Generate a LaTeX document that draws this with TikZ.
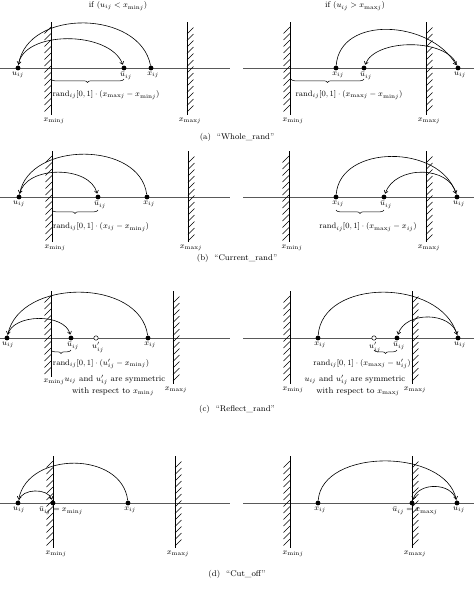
\documentclass[tikz,border=0pt]{standalone}
\usetikzlibrary{arrows.meta,decorations.pathreplacing}
\tikzset{
 ax/.style={line width=0.9pt, black!65},
 wallline/.style={line width=0.8pt},
 hatchline/.style={line width=0.5pt},
 pt/.style={circle, fill, inner sep=0pt, minimum size=4.8pt},
 opt/.style={circle, draw, fill=white, inner sep=0pt, minimum size=4.4pt, line width=0.5pt},
 lbl/.style={font=\fontsize{8.3}{9.5}\selectfont, inner sep=0.5pt},
 jump/.style={line width=0.6pt, -{To[length=3.2pt,width=4.5pt]}, shorten >=1pt},
 brc/.style={decorate, decoration={brace, amplitude=3.5pt, mirror}, line width=0.5pt},
}
\newcommand{\hwall}[5]{%
  \coordinate (#1t) at (#2,#3);
  \coordinate (#1b) at (#2,#4);
  \draw[wallline] (#1t) -- (#1b);
  \pgfmathtruncatemacro{\nh}{(#4-#3-9)/6.5}
  \foreach \k in {0,...,\nh} \draw[hatchline] (#2,{#3+5+\k*6.5+(1+#5)*3.5}) -- ++({#5*6.5},{-#5*6.5});
}
\begin{document}
\begin{tikzpicture}[x=1pt,y=-1pt]
\fill[white] (0,0) rectangle (474,592);
\useasboundingbox (0,0) rectangle (474,592);

% ---------- titles
\node[lbl] (tl) at (118,6) {if $(u_{ij} < x_{\mathrm{min}j})$};
\node[lbl] (tr) at (355,6) {if $(u_{ij} > x_{\mathrm{max}j})$};

% ================= (a) left
\draw[ax] (0,68) coordinate (aLs) -- (230,68) coordinate (aLe);
\hwall{aLmin}{51}{22}{115}{-1}
\hwall{aLmax}{187}{22}{115}{1}
\node[pt] (aLu) at (18,68) {};
\node[pt] (aLub) at (124,68) {};
\node[pt] (aLx) at (151,68) {};
\node[lbl,anchor=north] (aLul) at ([yshift=-1pt]aLu.south) {$u_{ij}$};
\node[lbl,anchor=north] (aLubl) at ([xshift=2pt,yshift=-1pt]aLub.south) {$\bar{u}_{ij}$};
\node[lbl,anchor=north] (aLxl) at ([xshift=2pt,yshift=-1pt]aLx.south) {$x_{ij}$};
\node[lbl,anchor=north] (aLminl) at ([xshift=3pt,yshift=-2pt]aLminb) {$x_{\mathrm{min}j}$};
\node[lbl,anchor=north] (aLmaxl) at ([xshift=3pt,yshift=-2pt]aLmaxb) {$x_{\mathrm{max}j}$};
\draw[jump] (aLx) .. controls (140,10) and (28,8) .. (aLu);
\draw[jump] (aLu) .. controls (22,30) and (110,30) .. (aLub);
\draw[brc] (51,79) -- (124,79);
\node[lbl] (aLr) at (106,95) {$\mathrm{rand}_{ij}[0,1]\cdot(x_{\mathrm{max}j}-x_{\mathrm{min}j})$};

% ================= (a) right
\draw[ax] (243,68) coordinate (aRs) -- (474,68) coordinate (aRe);
\hwall{aRmin}{290}{22}{115}{-1}
\hwall{aRmax}{426}{22}{115}{1}
\node[pt] (aRx) at (336,68) {};
\node[pt] (aRub) at (364,68) {};
\node[pt] (aRu) at (458,68) {};
\node[lbl,anchor=north] (aRxl) at ([xshift=2pt,yshift=-1pt]aRx.south) {$x_{ij}$};
\node[lbl,anchor=north] (aRubl) at ([xshift=2pt,yshift=-1pt]aRub.south) {$\bar{u}_{ij}$};
\node[lbl,anchor=north] (aRul) at ([xshift=2pt,yshift=-1pt]aRu.south) {$u_{ij}$};
\node[lbl,anchor=north] (aRminl) at ([xshift=3pt,yshift=-2pt]aRminb) {$x_{\mathrm{min}j}$};
\node[lbl,anchor=north] (aRmaxl) at ([xshift=3pt,yshift=-2pt]aRmaxb) {$x_{\mathrm{max}j}$};
\draw[jump] (aRx) .. controls (340,15) and (430,20) .. (aRu);
\draw[jump] (aRu) .. controls (448,38) and (375,38) .. (aRub);
\draw[brc] (291,79) -- (364,79);
\node[lbl] (aRr) at (349,95) {$\mathrm{rand}_{ij}[0,1]\cdot(x_{\mathrm{max}j}-x_{\mathrm{min}j})$};

\node[lbl] (capa) at (237,137) {(a)\ \ “Whole\_rand”};

% ================= (b) left
\draw[ax] (0,197) coordinate (bLs) -- (230,197) coordinate (bLe);
\hwall{bLmin}{52}{151}{242}{-1}
\hwall{bLmax}{188}{151}{242}{1}
\node[pt] (bLu) at (19,197) {};
\node[pt] (bLub) at (98,197) {};
\node[pt] (bLx) at (147,197) {};
\node[lbl,anchor=north] (bLul) at ([yshift=-1pt]bLu.south) {$u_{ij}$};
\node[lbl,anchor=north] (bLubl) at ([xshift=2pt,yshift=-1pt]bLub.south) {$\bar{u}_{ij}$};
\node[lbl,anchor=north] (bLxl) at ([xshift=2pt,yshift=-1pt]bLx.south) {$x_{ij}$};
\node[lbl,anchor=north] (bLminl) at ([xshift=3pt,yshift=-2pt]bLminb) {$x_{\mathrm{min}j}$};
\node[lbl,anchor=north] (bLmaxl) at ([xshift=3pt,yshift=-2pt]bLmaxb) {$x_{\mathrm{max}j}$};
\draw[jump] (bLx) .. controls (140,141) and (30,141) .. (bLu);
\draw[jump] (bLu) .. controls (25,165) and (90,165) .. (bLub);
\draw[brc] (52,210) -- (98,210);
\node[lbl] (bLr) at (101,227) {$\mathrm{rand}_{ij}[0,1]\cdot(x_{ij}-x_{\mathrm{min}j})$};

% ================= (b) right
\draw[ax] (243,197) coordinate (bRs) -- (474,197) coordinate (bRe);
\hwall{bRmin}{289}{151}{242}{-1}
\hwall{bRmax}{426}{151}{242}{1}
\node[pt] (bRx) at (336,197) {};
\node[pt] (bRub) at (384,197) {};
\node[pt] (bRu) at (457,197) {};
\node[lbl,anchor=north] (bRxl) at ([xshift=2pt,yshift=-1pt]bRx.south) {$x_{ij}$};
\node[lbl,anchor=north] (bRubl) at ([xshift=2pt,yshift=-1pt]bRub.south) {$\bar{u}_{ij}$};
\node[lbl,anchor=north] (bRul) at ([xshift=2pt,yshift=-1pt]bRu.south) {$u_{ij}$};
\node[lbl,anchor=north] (bRminl) at ([xshift=3pt,yshift=-2pt]bRminb) {$x_{\mathrm{min}j}$};
\node[lbl,anchor=north] (bRmaxl) at ([xshift=3pt,yshift=-2pt]bRmaxb) {$x_{\mathrm{max}j}$};
\draw[jump] (bRx) .. controls (340,144) and (440,144) .. (bRu);
\draw[jump] (bRu) .. controls (450,165) and (395,165) .. (bRub);
\draw[brc] (336,210) -- (384,210);
\node[lbl] (bRr) at (368,227) {$\mathrm{rand}_{ij}[0,1]\cdot(x_{\mathrm{max}j}-x_{ij})$};

\node[lbl] (capb) at (237,258) {(b)\ \ “Current\_rand”};

% ================= (c) left
\draw[ax] (0,338) coordinate (cLs) -- (230,338) coordinate (cLe);
\hwall{cLmin}{51}{291}{377}{-1}
\hwall{cLmax}{173}{291}{384}{1}
\node[pt] (cLu) at (7,338) {};
\node[pt] (cLub) at (71,338) {};
\node[opt] (cLup) at (96,338) {};
\node[pt] (cLx) at (148,338) {};
\node[lbl,anchor=north] (cLul) at ([xshift=1pt,yshift=-1pt]cLu.south) {$u_{ij}$};
\node[lbl,anchor=north] (cLubl) at ([xshift=2pt,yshift=-1pt]cLub.south) {$\bar{u}_{ij}$};
\node[lbl,anchor=north] (cLupl) at ([xshift=2pt,yshift=-1pt]cLup.south) {$u'_{ij}$};
\node[lbl,anchor=north] (cLxl) at ([xshift=2pt,yshift=-1pt]cLx.south) {$x_{ij}$};
\node[lbl,anchor=north] (cLminl) at ([xshift=3pt,yshift=-1pt]cLminb) {$x_{\mathrm{min}j}$};
\node[lbl,anchor=north] (cLmaxl) at ([xshift=3pt,yshift=-2pt]cLmaxb) {$x_{\mathrm{max}j}$};
\draw[jump] (cLx) .. controls (140,278) and (20,278) .. (cLu);
\draw[jump] (cLu) .. controls (12,313) and (65,313) .. (cLub);
\draw[brc] (51,350) -- (71,350);
\node[lbl] (cLr) at (101,364) {$\mathrm{rand}_{ij}[0,1]\cdot(u'_{ij}-x_{\mathrm{min}j})$};
\node[lbl] (cLs1) at (115,380) {$u_{ij}$ and $u'_{ij}$ are symmetric};
\node[lbl] (cLs2) at (113,392) {with respect to $x_{\mathrm{min}j}$};

% ================= (c) right
\draw[ax] (243,338) coordinate (cRs) -- (474,338) coordinate (cRe);
\hwall{cRmin}{290}{291}{384}{-1}
\hwall{cRmax}{412}{291}{384}{1}
\node[pt] (cRx) at (318,338) {};
\node[opt] (cRup) at (374,338) {};
\node[pt] (cRub) at (397,338) {};
\node[pt] (cRu) at (458,338) {};
\node[lbl,anchor=north] (cRxl) at ([xshift=2pt,yshift=-1pt]cRx.south) {$x_{ij}$};
\node[lbl,anchor=north] (cRupl) at ([xshift=1pt,yshift=-1pt]cRup.south) {$u'_{ij}$};
\node[lbl,anchor=north] (cRubl) at ([xshift=2pt,yshift=-1pt]cRub.south) {$\bar{u}_{ij}$};
\node[lbl,anchor=north] (cRul) at ([xshift=2pt,yshift=-1pt]cRu.south) {$u_{ij}$};
\node[lbl,anchor=north] (cRminl) at ([xshift=3pt,yshift=-2pt]cRminb) {$x_{\mathrm{min}j}$};
\node[lbl,anchor=north] (cRmaxl) at ([xshift=3pt,yshift=-2pt]cRmaxb) {$x_{\mathrm{max}j}$};
\draw[jump] (cRx) .. controls (322,278) and (440,278) .. (cRu);
\draw[jump] (cRu) .. controls (452,311) and (405,311) .. (cRub);
\draw[brc] (374,350) -- (397,350);
\node[lbl] (cRr) at (362,364) {$\mathrm{rand}_{ij}[0,1]\cdot(x_{\mathrm{max}j}-u'_{ij})$};
\node[lbl] (cRs1) at (355,380) {$u_{ij}$ and $u'_{ij}$ are symmetric};
\node[lbl] (cRs2) at (358,392) {with respect to $x_{\mathrm{max}j}$};

\node[lbl] (capc) at (237,409) {(c)\ \ “Reflect\_rand”};

% ================= (d) left
\draw[ax] (0,503) coordinate (dLs) -- (230,503) coordinate (dLe);
\hwall{dLmin}{53}{456}{548}{-1}
\hwall{dLmax}{175}{456}{548}{1}
\node[pt] (dLu) at (18,503) {};
\node[pt] (dLub) at (53,503) {};
\node[pt] (dLx) at (128,503) {};
\node[lbl,anchor=north] (dLul) at ([xshift=1pt,yshift=-1pt]dLu.south) {$u_{ij}$};
\node[lbl,anchor=north] (dLubl) at ([xshift=8pt,yshift=-1pt]dLub.south) {$\bar{u}_{ij}= x_{\mathrm{min}j}$};
\node[lbl,anchor=north] (dLxl) at ([xshift=2pt,yshift=-1pt]dLx.south) {$x_{ij}$};
\node[lbl,anchor=north] (dLminl) at ([xshift=3pt,yshift=-2pt]dLminb) {$x_{\mathrm{min}j}$};
\node[lbl,anchor=north] (dLmaxl) at ([xshift=3pt,yshift=-2pt]dLmaxb) {$x_{\mathrm{max}j}$};
\draw[jump] (dLx) .. controls (122,451) and (28,451) .. (dLu);
\draw[jump] (dLu) .. controls (22,488) and (48,488) .. (dLub);

% ================= (d) right
\draw[ax] (243,503) coordinate (dRs) -- (474,503) coordinate (dRe);
\hwall{dRmin}{290}{456}{548}{-1}
\hwall{dRmax}{412}{456}{548}{1}
\node[pt] (dRx) at (318,503) {};
\node[pt] (dRub) at (412,503) {};
\node[pt] (dRu) at (457,503) {};
\node[lbl,anchor=north] (dRxl) at ([xshift=2pt,yshift=-1pt]dRx.south) {$x_{ij}$};
\node[lbl,anchor=north] (dRubl) at ([xshift=3pt,yshift=-1pt]dRub.south) {$\bar{u}_{ij}= x_{\mathrm{max}j}$};
\node[lbl,anchor=north] (dRul) at ([xshift=2pt,yshift=-1pt]dRu.south) {$u_{ij}$};
\node[lbl,anchor=north] (dRminl) at ([xshift=3pt,yshift=-2pt]dRminb) {$x_{\mathrm{min}j}$};
\node[lbl,anchor=north] (dRmaxl) at ([xshift=3pt,yshift=-2pt]dRmaxb) {$x_{\mathrm{max}j}$};
\draw[jump] (dRx) .. controls (322,448) and (445,448) .. (dRu);
\draw[jump] (dRu) .. controls (452,482) and (418,482) .. (dRub);

\node[lbl] (capd) at (237,574) {(d)\ \ “Cut\_off”};
\end{tikzpicture}
\end{document}
